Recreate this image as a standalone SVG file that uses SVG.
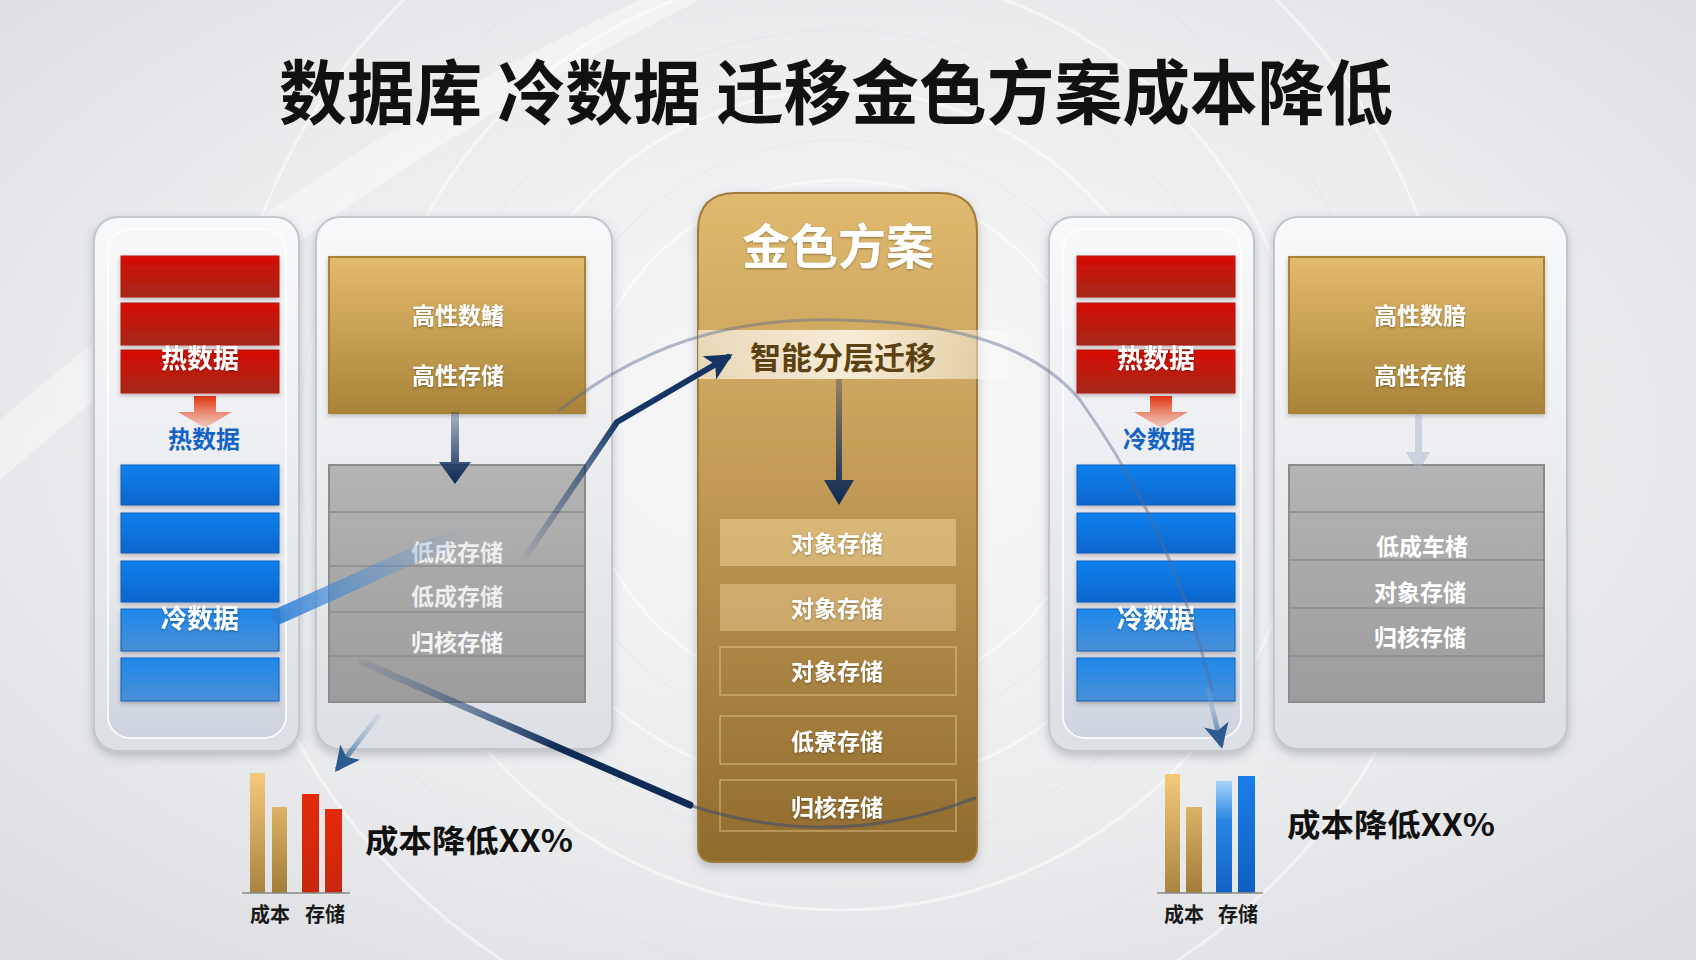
<svg xmlns="http://www.w3.org/2000/svg" width="1696" height="960" viewBox="0 0 1696 960">
<defs>
<style>
.cjk{font-family:'Noto Sans CJK SC','Noto Sans',sans-serif;font-weight:700}
.wt{fill:#ffffff;text-anchor:middle;dominant-baseline:central}
.box-t{font-size:23px}
.card{fill:url(#gCard);stroke:#c3c6cb;stroke-width:2;filter:url(#shadow)}
.inner{fill:url(#gInner);stroke:#ffffff;stroke-width:1.5}
.red{fill:url(#gRed);stroke:#b21b10;stroke-width:1;filter:url(#barShadow)}
.blue{fill:url(#gBlue);stroke:#0a62c0;stroke-width:1;filter:url(#barShadow)}
.gold{fill:url(#gGoldBox);stroke:#a88236;stroke-width:2;filter:url(#barShadow)}
.gray{fill:url(#gGray);stroke:#8b8b8b;stroke-width:2}
.row{stroke:#8d8d8d;stroke-width:1.5}
.ring{fill:none;stroke:#ffffff;stroke-width:3;opacity:0.5}
.ring2{fill:none;stroke:#cfd1d5;stroke-width:1.2;opacity:0.2}
.sub{fill:none;stroke:#e9cf98;stroke-width:1.5;opacity:0.55}
</style>
<radialGradient id="gBg" cx="0.5" cy="0.45" r="0.7">
<stop offset="0" stop-color="#f8f8f9"/>
<stop offset="0.6" stop-color="#ebecee"/>
<stop offset="1" stop-color="#dcdee1"/>
</radialGradient>
<linearGradient id="gSwoosh" x1="0" y1="0" x2="1" y2="1">
<stop offset="0" stop-color="#ffffff" stop-opacity="0"/>
<stop offset="0.5" stop-color="#ffffff" stop-opacity="0.7"/>
<stop offset="1" stop-color="#ffffff" stop-opacity="0"/>
</linearGradient>
<linearGradient id="gCard" x1="0" y1="0" x2="0" y2="1">
<stop offset="0" stop-color="#f8f9fa"/>
<stop offset="1" stop-color="#dcdfe3"/>
</linearGradient>
<linearGradient id="gInner" x1="0" y1="0" x2="0" y2="1">
<stop offset="0" stop-color="#f7f8fa"/>
<stop offset="0.7" stop-color="#e6e9ed"/>
<stop offset="1" stop-color="#cdd4dd"/>
</linearGradient>
<linearGradient id="gRed" x1="0" y1="0" x2="0" y2="1">
<stop offset="0" stop-color="#d80a02"/>
<stop offset="1" stop-color="#a42a1a"/>
</linearGradient>
<linearGradient id="gBlue" x1="0" y1="0" x2="0" y2="1">
<stop offset="0" stop-color="#0c80ee"/>
<stop offset="1" stop-color="#0866cc"/>
</linearGradient>
<linearGradient id="gBlueL" x1="0" y1="0" x2="0" y2="1">
<stop offset="0" stop-color="#1e88ea"/>
<stop offset="1" stop-color="#4a8fd6"/>
</linearGradient>
<linearGradient id="gGoldBox" x1="0" y1="0" x2="0" y2="1">
<stop offset="0" stop-color="#e3bb6e"/>
<stop offset="1" stop-color="#a88338"/>
</linearGradient>
<linearGradient id="gGray" x1="0" y1="0" x2="0" y2="1">
<stop offset="0" stop-color="#b4b4b4"/>
<stop offset="1" stop-color="#9c9c9c"/>
</linearGradient>
<linearGradient id="gCenter" x1="0" y1="0" x2="0" y2="1">
<stop offset="0" stop-color="#dfb96e"/>
<stop offset="0.45" stop-color="#c19955"/>
<stop offset="1" stop-color="#8f6b2d"/>
</linearGradient>
<linearGradient id="gBand" x1="0" y1="0" x2="1" y2="0">
<stop offset="0" stop-color="#ffffff" stop-opacity="0.55"/>
<stop offset="0.5" stop-color="#fff8ea" stop-opacity="0.85"/>
<stop offset="1" stop-color="#ffffff" stop-opacity="0.35"/>
</linearGradient>
<linearGradient id="gRedArrow" x1="0" y1="0" x2="0" y2="1">
<stop offset="0" stop-color="#e0300e"/>
<stop offset="1" stop-color="#f06030" stop-opacity="0.25"/>
</linearGradient>
<linearGradient id="gBarGold1" x1="0" y1="0" x2="0" y2="1">
<stop offset="0" stop-color="#f6c97a"/>
<stop offset="1" stop-color="#a88440"/>
</linearGradient>
<linearGradient id="gBarGold2" x1="0" y1="0" x2="0" y2="1">
<stop offset="0" stop-color="#dcb264"/>
<stop offset="1" stop-color="#a27c38"/>
</linearGradient>
<linearGradient id="gBarRed" x1="0" y1="0" x2="0" y2="1">
<stop offset="0" stop-color="#e42a0a"/>
<stop offset="1" stop-color="#c8260e"/>
</linearGradient>
<linearGradient id="gBarBlue1" x1="0" y1="0" x2="0" y2="1">
<stop offset="0" stop-color="#a6d4fb"/>
<stop offset="0.35" stop-color="#2a86e2"/>
<stop offset="1" stop-color="#1062c4"/>
</linearGradient>
<linearGradient id="gBarBlue2" x1="0" y1="0" x2="0" y2="1">
<stop offset="0" stop-color="#1a7ee8"/>
<stop offset="1" stop-color="#0f5fc0"/>
</linearGradient>
<linearGradient id="gNavyArrowV" x1="0" y1="0" x2="0" y2="1">
<stop offset="0" stop-color="#0f2f5c" stop-opacity="0.3"/>
<stop offset="1" stop-color="#0c2a55"/>
</linearGradient>
<linearGradient id="gBeam" gradientUnits="userSpaceOnUse" x1="279" y1="616" x2="470" y2="530">
<stop offset="0" stop-color="#2d7fd8" stop-opacity="0.9"/>
<stop offset="1" stop-color="#6a9ad0" stop-opacity="0"/>
</linearGradient>
<linearGradient id="gNavy1" gradientUnits="userSpaceOnUse" x1="520" y1="565" x2="620" y2="420">
<stop offset="0" stop-color="#173a6a" stop-opacity="0"/>
<stop offset="1" stop-color="#143563"/>
</linearGradient>
<linearGradient id="gNavy2" gradientUnits="userSpaceOnUse" x1="362" y1="662" x2="560" y2="748">
<stop offset="0" stop-color="#3a5f8e" stop-opacity="0.1"/>
<stop offset="1" stop-color="#0e2b55"/>
</linearGradient>
<linearGradient id="gSmall" gradientUnits="userSpaceOnUse" x1="378" y1="716" x2="336" y2="772">
<stop offset="0" stop-color="#8fb2d8" stop-opacity="0.2"/>
<stop offset="1" stop-color="#2d5a8f"/>
</linearGradient>
<linearGradient id="gSmallR" gradientUnits="userSpaceOnUse" x1="1210" y1="690" x2="1224" y2="752">
<stop offset="0" stop-color="#8fb2d8" stop-opacity="0.2"/>
<stop offset="1" stop-color="#2d5a8f"/>
</linearGradient>
<filter id="shadow" x="-20%" y="-10%" width="140%" height="125%">
<feDropShadow dx="0" dy="4" stdDeviation="5" flood-color="#5a6070" flood-opacity="0.35"/>
</filter>
<filter id="barShadow" x="-10%" y="-20%" width="120%" height="160%">
<feDropShadow dx="0" dy="2" stdDeviation="2" flood-color="#40302a" flood-opacity="0.3"/>
</filter>
<filter id="txtShadow" x="-10%" y="-20%" width="120%" height="150%">
<feDropShadow dx="0" dy="1" stdDeviation="1" flood-color="#000000" flood-opacity="0.35"/>
</filter>
<marker id="mNavy" viewBox="0 0 10 10" refX="8" refY="5" markerWidth="4.5" markerHeight="4.5" orient="auto" markerUnits="strokeWidth">
<path d="M0,0 L10,5 L0,10 L2.5,5 Z" fill="#143563"/>
</marker>
<marker id="mBlue" viewBox="0 0 10 10" refX="8" refY="5" markerWidth="5" markerHeight="5" orient="auto" markerUnits="strokeWidth">
<path d="M0,0 L10,5 L0,10 L2.5,5 Z" fill="#2d5a8f"/>
</marker>
</defs>

<!-- background -->
<rect x="0" y="0" width="1696" height="960" fill="url(#gBg)"/>
<g id="background">
<circle class="ring" cx="840" cy="440" r="260"/>
<circle class="ring2" cx="840" cy="440" r="300"/>
<circle class="ring" cx="840" cy="440" r="350"/>
<circle class="ring2" cx="840" cy="440" r="410"/>
<circle class="ring" cx="840" cy="440" r="470"/>
<circle class="ring2" cx="840" cy="440" r="540"/>
<circle class="ring" cx="840" cy="440" r="620"/>
<path d="M0,420 C200,250 380,120 640,0 L700,0 C420,140 220,290 0,480 Z" fill="url(#gSwoosh)" opacity="0.6"/>
</g>

<text id="title" class="cjk" x="836" y="88" font-size="70" font-weight="900" fill="#111111" text-anchor="middle" dominant-baseline="central" textLength="1114" lengthAdjust="spacingAndGlyphs">数据库 冷数据 迁移金色方案成本降低</text>

<!-- Panel 1: hot / cold (left) -->
<g id="node-hotcold-left">
<rect class="card" x="94" y="217" width="205" height="534" rx="24"/>
<rect class="inner" x="108" y="229" width="178" height="509" rx="22"/>
<rect class="red" x="121" y="256" width="158" height="41"/>
<rect class="red" x="121" y="303" width="158" height="42"/>
<rect class="red" x="121" y="350" width="158" height="43"/>
<text class="cjk wt" x="200" y="356" font-size="26" filter="url(#txtShadow)">热数据</text>
<path d="M194,396 H216 V412 H232 L205,428 L178,412 H194 Z" fill="url(#gRedArrow)"/>
<text class="cjk" x="204" y="437" font-size="24" fill="#1363c4" text-anchor="middle" dominant-baseline="central">热数据</text>
<rect class="blue" x="121" y="465" width="158" height="40"/>
<rect class="blue" x="121" y="513" width="158" height="40"/>
<rect class="blue" x="121" y="561" width="158" height="41"/>
<rect class="blue" x="121" y="609" width="158" height="42" style="fill:url(#gBlueL)"/>
<rect class="blue" x="121" y="658" width="158" height="43" style="fill:url(#gBlueL)"/>
<text class="cjk wt" x="200" y="616" font-size="26" filter="url(#txtShadow)">冷数据</text>
</g>

<!-- Panel 2: storage (left) -->
<g id="node-storage-left">
<rect class="card" x="316" y="217" width="296" height="532" rx="24"/>
<rect class="gold" x="329" y="257" width="256" height="156"/>
<text class="cjk wt box-t" x="458" y="314" filter="url(#txtShadow)">高性数鰭</text>
<text class="cjk wt box-t" x="458" y="374" filter="url(#txtShadow)">高性存储</text>
<rect class="gray" x="329" y="465" width="256" height="237"/>
<line class="row" x1="330" y1="512" x2="584" y2="512"/>
<line class="row" x1="330" y1="566" x2="584" y2="566"/>
<line class="row" x1="330" y1="612" x2="584" y2="612"/>
<line class="row" x1="330" y1="656" x2="584" y2="656"/>
<text class="cjk box-t" x="457" y="551" fill="#eeeeee" text-anchor="middle" dominant-baseline="central">低成存储</text>
<text class="cjk box-t" x="457" y="595" fill="#eeeeee" text-anchor="middle" dominant-baseline="central">低成存储</text>
<text class="cjk box-t" x="457" y="641" fill="#f4f4f4" text-anchor="middle" dominant-baseline="central">归核存储</text>
<path d="M451,412 H459 V462 H471 L455,484 L439,462 H451 Z" fill="url(#gNavyArrowV)"/>
</g>

<!-- Center gold panel -->
<g id="node-gold">
<path d="M736,193 H939 Q977,193 977,231 V846 Q977,862 961,862 H714 Q698,862 698,846 V231 Q698,193 736,193 Z" fill="url(#gCenter)" stroke="#a07c38" stroke-width="2" filter="url(#shadow)"/>
<text class="cjk wt" x="838" y="243" font-size="48" font-weight="900" filter="url(#txtShadow)">金色方案</text>
<rect x="698" y="330" width="310" height="49" fill="url(#gBand)"/>
<text class="cjk" x="843" y="355" font-size="31" font-weight="900" fill="#5c4212" text-anchor="middle" dominant-baseline="central">智能分层迁移</text>
<path d="M836,379 H842 V480 H854 L839,505 L824,480 H836 Z" fill="url(#gNavyArrowV)"/>
<rect x="720" y="519" width="236" height="47" fill="#efd196" fill-opacity="0.55"/>
<rect x="720" y="584" width="236" height="47" fill="#efd196" fill-opacity="0.45"/>
<rect class="sub" x="720" y="647" width="236" height="48"/>
<rect class="sub" x="720" y="716" width="236" height="48"/>
<rect class="sub" x="720" y="780" width="236" height="51"/>
<text class="cjk wt box-t" x="837" y="542" filter="url(#txtShadow)">对象存储</text>
<text class="cjk wt box-t" x="837" y="607" filter="url(#txtShadow)">对象存储</text>
<text class="cjk wt box-t" x="837" y="670" filter="url(#txtShadow)">对象存储</text>
<text class="cjk wt box-t" x="837" y="740" filter="url(#txtShadow)">低寮存储</text>
<text class="cjk wt box-t" x="837" y="806" filter="url(#txtShadow)">归核存储</text>
</g>

<!-- Panel 3: hot / cold (right) -->
<g id="node-hotcold-right">
<rect class="card" x="1049" y="217" width="205" height="534" rx="24"/>
<rect class="inner" x="1063" y="229" width="178" height="509" rx="22"/>
<rect class="red" x="1077" y="256" width="158" height="41"/>
<rect class="red" x="1077" y="303" width="158" height="42"/>
<rect class="red" x="1077" y="350" width="158" height="43"/>
<text class="cjk wt" x="1156" y="356" font-size="26" filter="url(#txtShadow)">热数据</text>
<path d="M1150,396 H1172 V412 H1188 L1161,428 L1134,412 H1150 Z" fill="url(#gRedArrow)"/>
<text class="cjk" x="1159" y="437" font-size="24" fill="#1363c4" text-anchor="middle" dominant-baseline="central">冷数据</text>
<rect class="blue" x="1077" y="465" width="158" height="40"/>
<rect class="blue" x="1077" y="513" width="158" height="40"/>
<rect class="blue" x="1077" y="561" width="158" height="41"/>
<rect class="blue" x="1077" y="609" width="158" height="42" style="fill:url(#gBlueL)"/>
<rect class="blue" x="1077" y="658" width="158" height="43" style="fill:url(#gBlueL)"/>
<text class="cjk wt" x="1156" y="616" font-size="26" filter="url(#txtShadow)">冷数据</text>
</g>

<!-- Panel 4: storage (right) -->
<g id="node-storage-right">
<rect class="card" x="1274" y="217" width="293" height="532" rx="24"/>
<rect class="gold" x="1289" y="257" width="255" height="156"/>
<text class="cjk wt box-t" x="1420" y="314" filter="url(#txtShadow)">高性数腤</text>
<text class="cjk wt box-t" x="1420" y="374" filter="url(#txtShadow)">高性存储</text>
<rect class="gray" x="1289" y="465" width="255" height="237"/>
<line class="row" x1="1290" y1="512" x2="1543" y2="512"/>
<line class="row" x1="1290" y1="560" x2="1543" y2="560"/>
<line class="row" x1="1290" y1="608" x2="1543" y2="608"/>
<line class="row" x1="1290" y1="656" x2="1543" y2="656"/>
<text class="cjk wt box-t" x="1422" y="545">低成车楮</text>
<text class="cjk wt box-t" x="1420" y="591">对象存储</text>
<text class="cjk wt box-t" x="1420" y="636">归核存储</text>
<path d="M1415,414 H1422 V452 H1430 L1418,472 L1406,452 H1415 Z" fill="#9fb2c8" opacity="0.45"/>
</g>

<!-- Charts -->
<g id="chart-left">
<rect x="250" y="773" width="15" height="120" fill="url(#gBarGold1)"/>
<rect x="272" y="807" width="15" height="86" fill="url(#gBarGold2)"/>
<rect x="302" y="794" width="17" height="99" fill="url(#gBarRed)"/>
<rect x="325" y="809" width="17" height="84" fill="url(#gBarRed)"/>
<line x1="242" y1="893" x2="350" y2="893" stroke="#8a8a8a" stroke-width="1.5"/>
<text class="cjk" x="270" y="913" font-size="20" fill="#1a1a1a" text-anchor="middle" dominant-baseline="central">成本</text>
<text class="cjk" x="325" y="913" font-size="20" fill="#1a1a1a" text-anchor="middle" dominant-baseline="central">存储</text>
<text class="cjk" x="365" y="838" font-size="31" font-weight="900" fill="#111111" dominant-baseline="central" textLength="208" lengthAdjust="spacingAndGlyphs">成本降低XX%</text>
</g>
<g id="chart-right">
<rect x="1165" y="774" width="15" height="119" fill="url(#gBarGold1)"/>
<rect x="1186" y="807" width="16" height="86" fill="url(#gBarGold2)"/>
<rect x="1216" y="781" width="16" height="112" fill="url(#gBarBlue1)"/>
<rect x="1238" y="776" width="17" height="117" fill="url(#gBarBlue2)"/>
<line x1="1157" y1="893" x2="1263" y2="893" stroke="#8a8a8a" stroke-width="1.5"/>
<text class="cjk" x="1184" y="913" font-size="20" fill="#1a1a1a" text-anchor="middle" dominant-baseline="central">成本</text>
<text class="cjk" x="1238" y="913" font-size="20" fill="#1a1a1a" text-anchor="middle" dominant-baseline="central">存储</text>
<text class="cjk" x="1287" y="822" font-size="31" font-weight="900" fill="#111111" dominant-baseline="central" textLength="208" lengthAdjust="spacingAndGlyphs">成本降低XX%</text>
</g>

<!-- Connectors -->
<g id="connectors" fill="none" stroke-linecap="round">
<path d="M560,410 C660,330 760,318 840,320 C940,322 1030,340 1080,400 C1130,470 1180,560 1212,690" stroke="#5b6a8e" stroke-width="3" opacity="0.45"/>
<path d="M692,806 Q836,852 975,798" stroke="#3a4a72" stroke-width="3" opacity="0.55"/>
<path d="M279,616 L470,530" stroke="url(#gBeam)" stroke-width="16"/>
<path d="M520,565 L617,422 L728,357" stroke="url(#gNavy1)" stroke-width="6" stroke-linejoin="round" marker-end="url(#mNavy)"/>
<path d="M362,662 L690,805" stroke="url(#gNavy2)" stroke-width="7"/>
<path d="M378,716 L338,768" stroke="url(#gSmall)" stroke-width="5" marker-end="url(#mBlue)"/>
<path d="M1208,690 L1221,744" stroke="url(#gSmallR)" stroke-width="5" marker-end="url(#mBlue)"/>
</g>
</svg>
